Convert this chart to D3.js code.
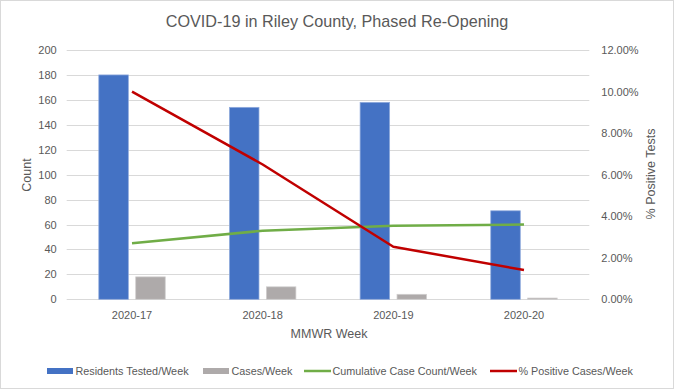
<!DOCTYPE html>
<meta charset="utf-8">
<script src="https://cdn.jsdelivr.net/npm/d3@7"></script>
<style>
body { margin: 0; background: #fff; }
text { font-family: "Liberation Sans", Arial, sans-serif; fill: #595959; }
.grid line { stroke: #d9d9d9; stroke-width: 1px; }
</style>
<body>
<script>
// data
var weeks = ["2020-17", "2020-18", "2020-19", "2020-20"];
var residentsTested = [180, 154, 158, 71];
var casesWeek = [18, 10, 4, 1];
var cumulativeCases = [45, 55, 59, 60];
var pctPositive = [0.1000, 0.0649, 0.0253, 0.0141];
var countTicks = [0, 20, 40, 60, 80, 100, 120, 140, 160, 180, 200];
var pctTicks = [0, 0.02, 0.04, 0.06, 0.08, 0.10, 0.12];
var legendItems = [
  {name: "Residents Tested/Week", color: "#4472c4", type: "bar"},
  {name: "Cases/Week", color: "#aeaaaa", type: "bar"},
  {name: "Cumulative Case Count/Week", color: "#70ad47", type: "line"},
  {name: "% Positive Cases/Week", color: "#c00000", type: "line"}
];

var width = 674,
    height = 390;
var plotLeft = 66.7, plotRight = 589.3, plotTop = 50, plotBottom = 299.3;

var svg = d3.select("body").append("svg")
    .attr("width", width)
    .attr("height", height);

// outer frame
svg.append("rect")
    .attr("x", 0.5).attr("y", 0.5)
    .attr("width", width - 1).attr("height", height - 2)
    .attr("fill", "#fff")
    .attr("stroke", "#d9d9d9");

var x = d3.scaleBand().domain(weeks).range([plotLeft, plotRight]);
var xInner = d3.scaleBand().domain(["tested", "cases"])
    .range([0, x.bandwidth()])
    .paddingInner(0.2)
    .paddingOuter(0.87);
var y = d3.scaleLinear().domain([0, 200]).range([plotBottom, plotTop]);
var y2 = d3.scaleLinear().domain([0, 0.12]).range([plotBottom, plotTop]);

// gridlines
svg.append("g").attr("class", "grid")
  .selectAll("line")
  .data(countTicks)
  .enter().append("line")
    .attr("x1", plotLeft).attr("x2", plotRight)
    .attr("y1", d => Math.round(y(d)) + 0.5)
    .attr("y2", d => Math.round(y(d)) + 0.5);

// left axis
var yAxis = svg.append("g")
    .attr("transform", "translate(" + (plotLeft - 10) + ",0)")
    .call(d3.axisLeft(y).tickValues(countTicks).tickSize(0).tickPadding(0));
yAxis.select(".domain").remove();
yAxis.selectAll("text").style("font-size", "11px").attr("fill", "#595959")
    .style("font-family", "'Liberation Sans', Arial, sans-serif");

// right axis
var y2Axis = svg.append("g")
    .attr("transform", "translate(" + (plotRight + 12) + ",0)")
    .call(d3.axisRight(y2).tickValues(pctTicks).tickSize(0).tickPadding(0)
      .tickFormat(d3.format(".2%")));
y2Axis.select(".domain").remove();
y2Axis.selectAll("text").style("font-size", "11px").attr("fill", "#595959")
    .style("font-family", "'Liberation Sans', Arial, sans-serif");

// bars
var groups = svg.append("g")
  .selectAll("g")
  .data(weeks)
  .enter().append("g")
    .attr("transform", d => "translate(" + x(d) + ",0)");

groups.append("rect")
    .attr("x", d => xInner("tested"))
    .attr("width", xInner.bandwidth())
    .attr("y", (d, i) => y(residentsTested[i]))
    .attr("height", (d, i) => y(0) - y(residentsTested[i]))
    .attr("fill", "#4472c4")
    .attr("stroke", "#8faadc")
    .attr("stroke-width", 0.75);

groups.append("rect")
    .attr("x", d => xInner("cases"))
    .attr("width", xInner.bandwidth())
    .attr("y", (d, i) => y(casesWeek[i]))
    .attr("height", (d, i) => y(0) - y(casesWeek[i]))
    .attr("fill", "#aeaaaa")
    .attr("stroke", "#d0cece")
    .attr("stroke-width", 0.75);

// lines
var cx = d => x(d) + x.bandwidth() / 2;

svg.append("path")
    .datum(weeks)
    .attr("fill", "none")
    .attr("stroke", "#70ad47")
    .attr("stroke-width", 2.5)
    .attr("stroke-linejoin", "round")
    .attr("d", d3.line().x(cx).y((d, i) => y(cumulativeCases[i])));

svg.append("path")
    .datum(weeks)
    .attr("fill", "none")
    .attr("stroke", "#c00000")
    .attr("stroke-width", 2.5)
    .attr("stroke-linejoin", "round")
    .attr("d", d3.line().x(cx).y((d, i) => y2(pctPositive[i])));

// x labels
svg.append("g")
  .selectAll("text")
  .data(weeks)
  .enter().append("text")
    .attr("x", cx)
    .attr("y", 319)
    .attr("text-anchor", "middle")
    .style("font-size", "11px")
    .text(d => d);

// titles
svg.append("text")
    .attr("x", 337).attr("y", 27)
    .attr("text-anchor", "middle")
    .style("font-size", "16.2px")
    .text("COVID-19 in Riley County, Phased Re-Opening");

svg.append("text")
    .attr("x", 329).attr("y", 338)
    .attr("text-anchor", "middle")
    .style("font-size", "12.5px")
    .text("MMWR Week");

svg.append("text")
    .attr("transform", "translate(31,175) rotate(-90)")
    .attr("text-anchor", "middle")
    .style("font-size", "12.5px")
    .text("Count");

svg.append("text")
    .attr("transform", "translate(655,174) rotate(-90)")
    .attr("text-anchor", "middle")
    .style("font-size", "12.5px")
    .text("% Positive Tests");

// legend
var legendX = [47, 203, 304, 490];
var legend = svg.append("g")
  .selectAll("g")
  .data(legendItems)
  .enter().append("g")
    .attr("transform", (d, i) => "translate(" + legendX[i] + ",371)");

legend.filter(d => d.type == "bar").append("rect")
    .attr("x", 0).attr("y", -3)
    .attr("width", 26).attr("height", 6)
    .attr("fill", d => d.color);

legend.filter(d => d.type == "line").append("line")
    .attr("x1", 0).attr("x2", 27)
    .attr("y1", 0).attr("y2", 0)
    .attr("stroke", d => d.color)
    .attr("stroke-width", 2.5);

legend.append("text")
    .attr("x", 28.5)
    .attr("y", 4)
    .style("font-size", "10.8px")
    .text(d => d.name);
</script>
</body>
</html>
